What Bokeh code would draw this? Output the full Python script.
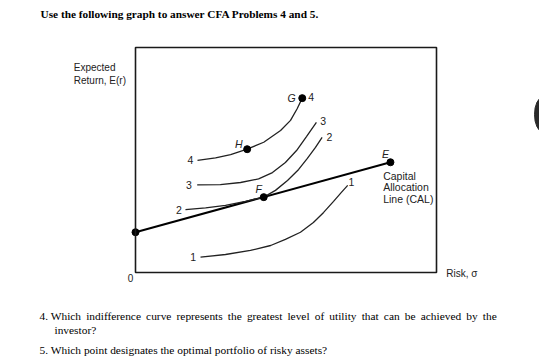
from bokeh.plotting import figure
from bokeh.models import Label, Range1d, BoxAnnotation
from bokeh.embed import file_html
from bokeh.resources import INLINE

# ---- data (risk, expected return) ----
cal_x = [0.0, 8.47]
cal_y = [1.79, 4.90]

curve4_x = [2.06, 2.66, 3.16, 3.71, 4.26, 4.82, 5.15, 5.37, 5.54]
curve4_y = [4.98, 5.09, 5.24, 5.48, 5.79, 6.31, 6.76, 7.28, 7.75]

curve3_x = [2.05, 2.82, 3.49, 4.09, 4.55, 4.98, 5.35, 5.68, 6.01]
curve3_y = [3.89, 3.91, 4.00, 4.16, 4.44, 4.89, 5.42, 6.04, 6.67]

curve2_x = [1.66, 2.33, 2.99, 3.65, 4.26, 4.65, 5.05, 5.42, 5.71, 5.98, 6.20]
curve2_y = [2.79, 2.87, 2.98, 3.16, 3.35, 3.65, 4.09, 4.58, 5.07, 5.56, 6.01]

curve1_x = [2.16, 2.99, 3.82, 4.49, 4.98, 5.48, 5.91, 6.25, 6.58, 6.84, 7.05]
curve1_y = [0.68, 0.80, 0.98, 1.20, 1.47, 1.79, 2.22, 2.67, 3.16, 3.56, 3.87]

point_names = ["risk-free", "H", "G", "F", "E"]
point_x = [0.0, 3.71, 5.54, 4.26, 8.47]
point_y = [1.79, 5.48, 7.75, 3.35, 4.90]

# ---- layout: the plotting box (risk 0..10, return 0..10) sits inside the page ----
W, H = 539, 360
BOX_L, BOX_R, BOX_T, BOX_B = 135, 436, 47, 272   # pixels on the page
sx = (BOX_R - BOX_L) / 10.0
sy = (BOX_B - BOX_T) / 10.0
x_range = Range1d(-BOX_L / sx, (W - BOX_L) / sx)
y_range = Range1d(-(H - BOX_B) / sy, BOX_B / sy)

def px(xp):
    return (xp - BOX_L) / sx

def py(yp):
    return (BOX_B - yp) / sy

p = figure(width=W, height=H, output_backend="svg", toolbar_location=None,
           x_axis_type=None, y_axis_type=None,
           x_range=x_range, y_range=y_range, min_border=0)
p.background_fill_color = "white"
p.border_fill_color = "white"
p.grid.visible = False
p.outline_line_color = None

# plot box
p.add_layout(BoxAnnotation(left=0, right=10, bottom=0, top=10, fill_alpha=0,
                           line_color="#1a1a1a", line_alpha=1.0, line_width=1.6))

lc = "#222222"
p.line(cal_x, cal_y, line_color="black", line_width=2)
for cx, cy in [(curve4_x, curve4_y), (curve3_x, curve3_y),
               (curve2_x, curve2_y), (curve1_x, curve1_y)]:
    p.line(cx, cy, line_color=lc, line_width=1.3)
p.scatter(point_x, point_y, size=7, color="black")

# dark page-edge artefact at the right border of the scan
p.ellipse(x=[px(542)], y=[py(114)], width=16, height=34,
          width_units="screen", height_units="screen", color="#2a2a2a")

sans = "Liberation Sans"
serif = "Liberation Serif"

def lab(xp, yp, t, size="10.5px", font=sans, style="normal", align="left", color="#222222"):
    p.add_layout(Label(x=px(xp), y=py(yp), text=t, text_font=font, text_font_size=size,
                       text_font_style=style, text_align=align,
                       text_baseline="middle", text_color=color))

# curve labels
lab(190, 159.5, "4", align="center")
lab(188.3, 184.3, "3", align="center")
lab(178.3, 209.3, "2", align="center")
lab(192.7, 256, "1", align="center")
lab(310.7, 96.7, "4", align="center")
lab(322.7, 120, "3", align="center")
lab(329, 136.7, "2", align="center")
lab(351, 181, "1", align="center")
lab(238.3, 143.5, "H", style="italic", align="center")
lab(291, 97.7, "G", style="italic", align="center")
lab(258.3, 188.3, "F", style="italic", align="center")
lab(385, 153.3, "E", style="italic", align="center")
lab(382.7, 175, "Capital")
lab(382.7, 186.7, "Allocation")
lab(382.7, 198.3, "Line (CAL)")

# axis texts
lab(73.3, 67.3, "Expected", size="10px")
lab(73.3, 80, "Return, E(r)", size="10px")
lab(130, 277.3, "0", size="10px", align="center")
lab(445.7, 272.7, "Risk, σ", size="10px")

# page texts
lab(40, 13, "Use the following graph to answer CFA Problems 4 and 5.",
    size="11.3px", font=serif, style="bold", color="black")
q4 = "Which indifference curve represents the greatest level of utility that can be achieved by the"
q4 = " \u2009".join(q4.split(" "))
lab(39, 315, "4.  " + q4, size="11.4px", font=serif, color="black")
lab(54, 329.3, "investor?", size="11.4px", font=serif, color="black")
lab(39, 349.3, "5.  Which point designates the optimal portfolio of risky assets?",
    size="11.4px", font=serif, color="black")

open("out.html", "w").write(file_html(p, INLINE))
